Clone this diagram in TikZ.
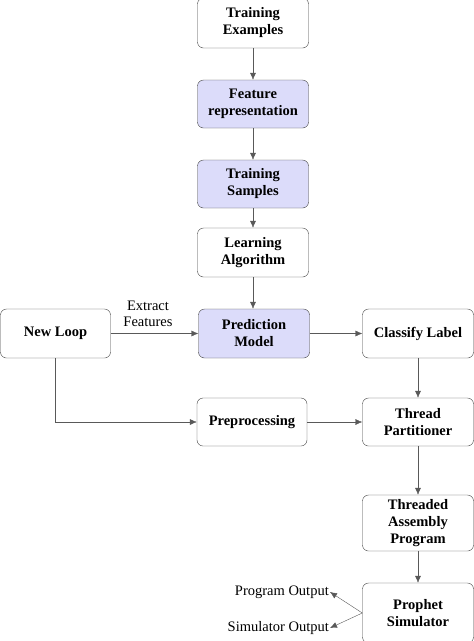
\documentclass[tikz,border=0pt]{standalone}
\usepackage{fontspec}
\setmainfont{Liberation Serif}
\usetikzlibrary{arrows.meta}
\definecolor{boxblue}{RGB}{220,220,250}
\tikzset{
  stepbox/.style={draw=black!75,rounded corners=6pt,minimum width=111pt,
    minimum height=48pt,inner sep=0pt,align=center,
    font=\fontsize{14.5}{17}\selectfont\bfseries},
  hl/.style={stepbox,fill=boxblue},
  flow/.style={draw=black!65,-{Latex[length=7pt,width=6pt]}}
}
\begin{document}
\begin{tikzpicture}[x=1pt,y=-1pt]
      \useasboundingbox (0,0) rectangle (474,641);
      % training branch
      \node[stepbox,minimum height=50pt] (te) at (253,23) {Training\\Examples};
      \node[hl] (fr) at (253,104) {Feature\\representation};
      \node[hl] (ts) at (253,184) {Training\\Samples};
      \node[stepbox,minimum height=49pt] (la) at (253,252.5) {Learning\\Algorithm};
      \node[hl,minimum height=49pt] (pm) at (254,333.5) {Prediction\\Model};
      % new loop branch
      \node[stepbox,minimum width=110pt,minimum height=49pt] (nl) at (55.5,333.5) {New Loop};
      \node[stepbox,minimum height=49pt] (cl) at (418,333.5) {Classify Label};
      \node[stepbox,minimum width=110pt] (pp) at (252,422) {Preprocessing};
      \node[stepbox] (tp) at (418,422) {Thread\\Partitioner};
      \node[stepbox,minimum height=56pt] (tap) at (418,523) {Threaded\\Assembly\\Program};
      \node[stepbox,minimum height=60pt] (ps) at (418,613) {Prophet\\Simulator};
      \node[align=center,font=\fontsize{14.5}{16.5}\selectfont] (ef) at (148,314) {Extract\\Features};
      \node[anchor=east,inner sep=1pt,font=\fontsize{14.5}{16}\selectfont] (po) at (330,592) {Program Output};
      \node[anchor=east,inner sep=1pt,font=\fontsize{14.5}{16}\selectfont] (so) at (330,628) {Simulator Output};
      \draw[flow] (te) -- (fr);
      \draw[flow] (fr) -- (ts);
      \draw[flow] (ts) -- (la);
      \draw[flow] (la.south) -- (la.south |- pm.north);
      \draw[flow] (nl) -- (pm);
      \draw[flow] (pm) -- (cl);
      \draw[flow] (cl) -- (tp);
      \draw[flow] (nl.south) |- (pp.west);
      \draw[flow] (pp) -- (tp);
      \draw[flow] (tp) -- (tap);
      \draw[flow] (tap) -- (ps);
      \draw[flow] (ps.west) -- (po.east);
      \draw[flow] (ps.west) -- (so.east);
\end{tikzpicture}
\end{document}
